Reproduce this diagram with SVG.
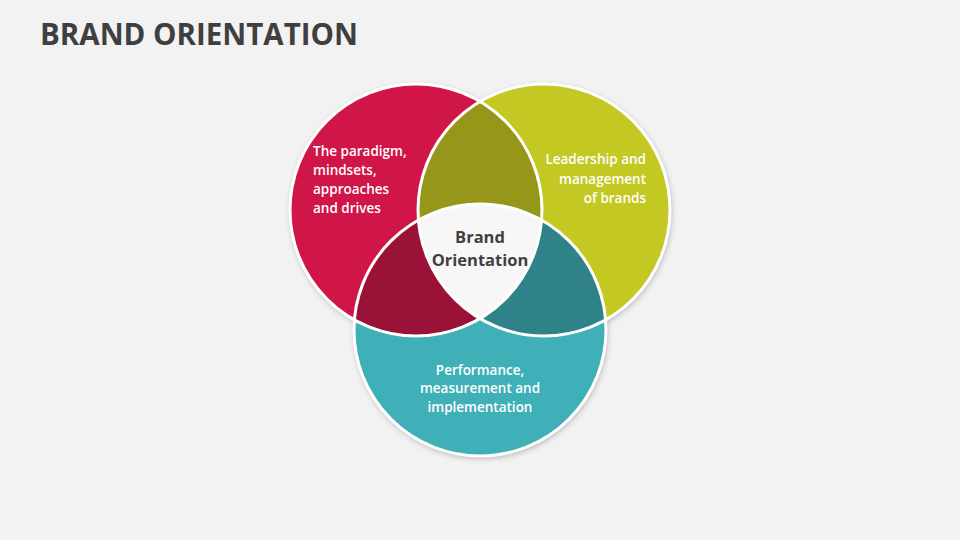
<svg xmlns="http://www.w3.org/2000/svg" width="960" height="540" viewBox="0 0 960 540">
<defs>
<style>
.t{font-family:"Open Sans","Liberation Sans",sans-serif;font-weight:600;font-size:13.5px;fill:#fff}
.c{font-family:"Open Sans","Liberation Sans",sans-serif;font-weight:700;font-size:16.5px;fill:#404040;text-anchor:middle}
.o{fill:none;stroke:#fff;stroke-width:3}
</style>
<clipPath id="cr"><circle cx="416" cy="210" r="126"/></clipPath>
<clipPath id="cg"><circle cx="544" cy="210" r="126"/></clipPath>
<clipPath id="ct"><circle cx="480" cy="330" r="126"/></clipPath>
<filter id="sh" x="-20%" y="-20%" width="140%" height="140%"><feDropShadow dx="1" dy="2" stdDeviation="3" flood-opacity="0.3"/></filter>
</defs>
<rect width="960" height="540" fill="#f2f2f2"/>
<text x="40" y="45" font-family="Open Sans,Liberation Sans,sans-serif" font-weight="700" font-size="30" fill="#3f3f3f" textLength="318" lengthAdjust="spacingAndGlyphs">BRAND ORIENTATION</text>
<g filter="url(#sh)">
<g id="red"><circle cx="416" cy="210" r="126" fill="#d0184a"/></g>
<g id="green"><circle cx="544" cy="210" r="126" fill="#c3c923"/></g>
<g id="teal"><circle cx="480" cy="330" r="126" fill="#40b0b8"/></g>
</g>
<g id="ov-rg" clip-path="url(#cr)"><circle cx="544" cy="210" r="126" fill="#95961a"/></g>
<g id="ov-rt" clip-path="url(#cr)"><circle cx="480" cy="330" r="126" fill="#9b1238"/></g>
<g id="ov-gt" clip-path="url(#cg)"><circle cx="480" cy="330" r="126" fill="#2e8288"/></g>
<g id="center" clip-path="url(#cr)"><g clip-path="url(#cg)"><circle cx="480" cy="330" r="126" fill="#f7f7f7"/></g></g>
<g id="outlines">
<circle class="o" cx="416" cy="210" r="126"/>
<circle class="o" cx="544" cy="210" r="126"/>
<circle class="o" cx="480" cy="330" r="126"/>
</g>
<g id="lbl-red"><text class="t" x="313" y="156">The paradigm,</text><text class="t" x="313" y="175">mindsets,</text><text class="t" x="313" y="194">approaches</text><text class="t" x="313" y="213">and drives</text></g>
<g id="lbl-green" text-anchor="end"><text class="t" x="646" y="164">Leadership and</text><text class="t" x="646" y="184">management</text><text class="t" x="646" y="203">of brands</text></g>
<g id="lbl-teal" text-anchor="middle"><text class="t" x="480" y="375">Performance,</text><text class="t" x="480" y="393">measurement and</text><text class="t" x="480" y="412">implementation</text></g>
<g id="lbl-center"><text class="c" x="480" y="243">Brand</text><text class="c" x="480" y="266">Orientation</text></g>
</svg>
